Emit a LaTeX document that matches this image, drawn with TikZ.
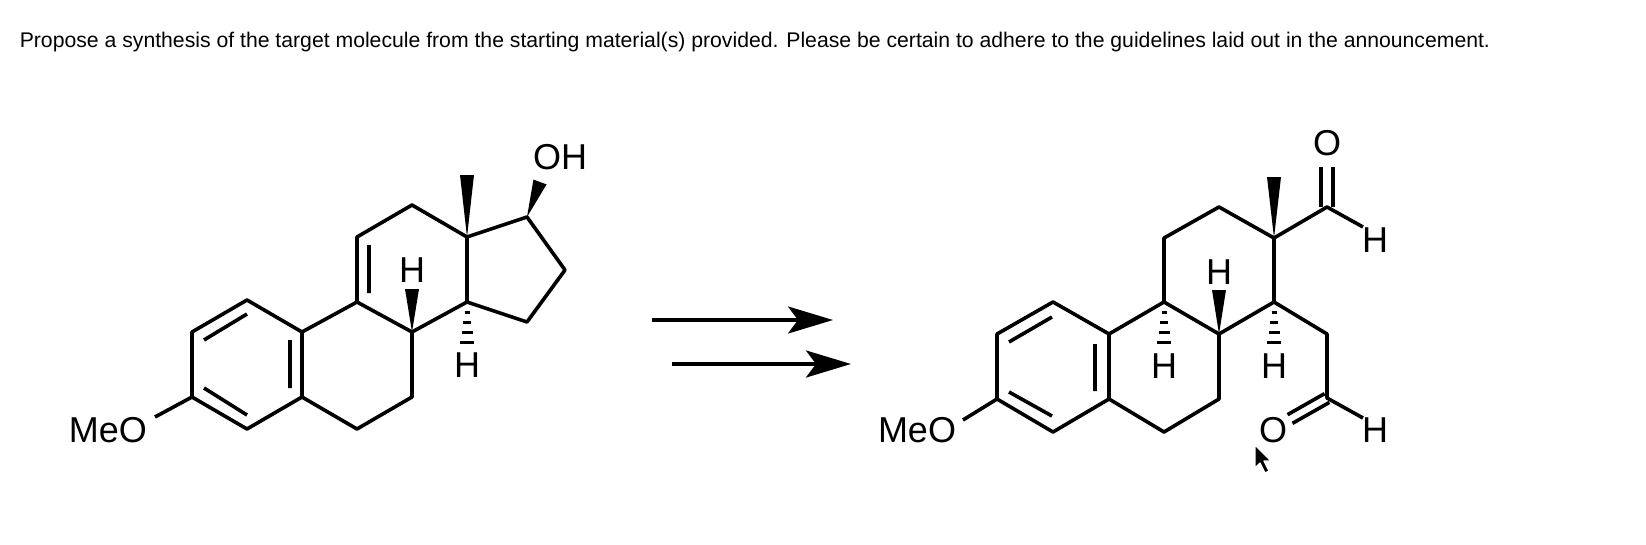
\documentclass[tikz,border=0pt]{standalone}
\usepackage{fontspec}
\setmainfont{Liberation Sans}
\usetikzlibrary{calc,arrows.meta}
\begin{document}
\begin{tikzpicture}[x=1pt,y=-1pt,line width=3.6pt,line join=round,
  atom/.style={inner sep=0pt,font=\fontsize{36}{36}\selectfont},
  rxn/.style={line width=4pt,-{Stealth[length=45pt,width=27pt,inset=10pt]}}]
\useasboundingbox[fill=white] (0,0) rectangle (1646,544);
\node[anchor=base west,inner sep=0pt,font=\fontsize{21.2}{21.2}\selectfont] (title) at (18,47)
 {Propose a synthesis of the target molecule from the starting material(s) provided. Please be certain to adhere to the guidelines laid out in the announcement.};
% ---------- left molecule ----------
\foreach \n/\p in {a1/{247,300},a2/{192,332},a3/{192,397},a4/{247,429},a5/{302,397},a6/{302,332},
  b2/{357,302},b3/{412,332},b4/{412,397},b5/{357,429},
  c2/{357,237},c3/{412,205},c4/{467,237},c5/{467,302},
  d2/{527,217},d3/{565,270},d4/{527,322},me/{467,175},oh/{540,182},
  hw/{412,289},mo/{155,417}}
  \coordinate (L\n) at (\p);
\draw (La1)--(La2)--(La3)--(La4)--(La5)--(La6)--cycle;
\draw (La6)--(Lb2)--(Lb3)--(Lb4)--(Lb5)--(La5);
\draw (Lb2)--(Lc2)--(Lc3)--(Lc4)--(Lc5)--(Lb3);
\draw (Lc4)--(Ld2)--(Ld3)--(Ld4)--(Lc5);
\draw (La3)--(Lmo);
\draw (204,340)--(247,314) (290,340)--(290,388) (204,388)--(247,415) (369,245)--(369,293);
\fill (Lc4) -- ($(Lme)!7pt!90:(Lc4)$) -- ($(Lme)!7pt!-90:(Lc4)$) -- cycle;
\fill (Ld2) -- ($(Loh)!7pt!90:(Ld2)$) -- ($(Loh)!7pt!-90:(Ld2)$) -- cycle;
\fill (Lb3) -- ($(Lhw)!7pt!90:(Lb3)$) -- ($(Lhw)!7pt!-90:(Lb3)$) -- cycle;
\foreach \d/\w in {10/2.5,20/4,30/5.5,40/7} \draw[line width=3pt] (467-\w,302+\d)--(467+\w,302+\d);
\node[atom] (Lmeo) at (108,430) {MeO};
\node[atom] (Loht) at (560,157) {OH};
\node[atom] (LH1) at (412,270) {H};
\node[atom] (LH2) at (467,365) {H};
% ---------- arrows ----------
\coordinate (r1s) at (652,320); \coordinate (r1e) at (833,320);
\coordinate (r2s) at (672,364); \coordinate (r2e) at (851,364);
\draw[rxn] (r1s)--(r1e);
\draw[rxn] (r2s)--(r2e);
% ---------- right molecule ----------
\foreach \n/\p in {a1/{1053,302},a2/{997,334},a3/{997,399},a4/{1053,432},a5/{1109,399},a6/{1109,334},
  b2/{1164,302},b3/{1219,334},b4/{1219,399},b5/{1164,432},
  c2/{1164,238},c3/{1219,207},c4/{1274,238},c5/{1274,302},
  me/{1274,177},k1/{1327,207},o1/{1327,167},h1/{1363,227},
  s1/{1327,334},s2/{1327,398},o2/{1290,419},h2/{1363,418},
  hw/{1219,290},mo/{963,420}}
  \coordinate (R\n) at (\p);
\draw (Ra1)--(Ra2)--(Ra3)--(Ra4)--(Ra5)--(Ra6)--cycle;
\draw (Ra6)--(Rb2)--(Rb3)--(Rb4)--(Rb5)--(Ra5);
\draw (Rb2)--(Rc2)--(Rc3)--(Rc4)--(Rc5)--(Rb3);
\draw (Rc4)--(Rk1)--(Rh1);
\draw (Rc5)--(Rs1)--(Rs2)--(Rh2);
\draw (Ra3)--(Rmo);
\draw (1009,342)--(1052,317) (1095,344)--(1095,391) (1009,392)--(1052,416);
\draw (1321,207)--(1321,167) (1333,207)--(1333,167);
\draw ($(Rs2)!5pt!90:(Ro2)$)--($(Ro2)!5pt!-90:(Rs2)$) ($(Rs2)!5pt!-90:(Ro2)$)--($(Ro2)!5pt!90:(Rs2)$);
\fill (Rc4) -- ($(Rme)!7pt!90:(Rc4)$) -- ($(Rme)!7pt!-90:(Rc4)$) -- cycle;
\fill (Rb3) -- ($(Rhw)!7pt!90:(Rb3)$) -- ($(Rhw)!7pt!-90:(Rb3)$) -- cycle;
\foreach \x in {1164,1274}
 \foreach \d/\w in {10/2.5,20/4,30/5.5,40/7} \draw[line width=3pt] (\x-\w,302+\d)--(\x+\w,302+\d);
\node[atom] (Rmeo) at (917,430) {MeO};
\node[atom] (RO1) at (1327,143) {O};
\node[atom] (RH1) at (1375,240) {H};
\node[atom] (RO2) at (1273,430) {O};
\node[atom] (RH2) at (1375,430) {H};
\node[atom] (RHw) at (1219,272) {H};
\node[atom] (RHa) at (1164,366) {H};
\node[atom] (RHb) at (1274,366) {H};
% cursor
\fill[black,draw=white,line width=1.2pt] (1255,445) -- ++(0,23) -- ++(5,-5) -- ++(5,10) -- ++(4,-2) -- ++(-5,-10) -- ++(7,0) -- cycle;
\end{tikzpicture}
\end{document}
